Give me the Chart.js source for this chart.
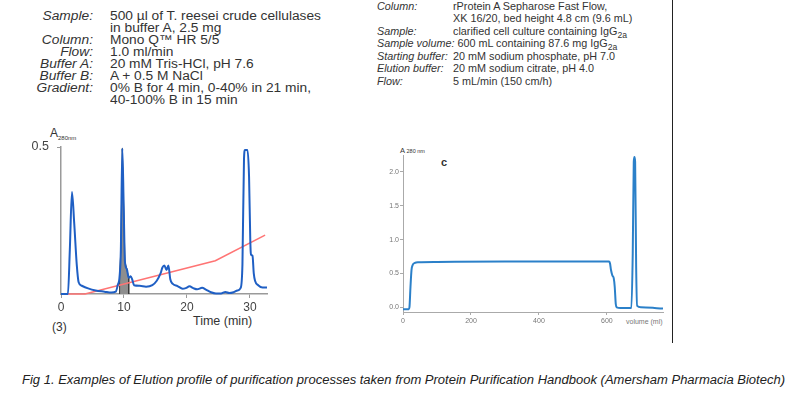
<!DOCTYPE html>
<html>
<head>
<meta charset="utf-8">
<script src="https://cdn.jsdelivr.net/npm/chart.js"></script>
<style>
  body { margin: 0; background: #fff; width: 801px; height: 397px; position: relative; overflow: hidden;
         font-family: "Liberation Sans", Arial, sans-serif; color: #333; }
  .t { position: absolute; white-space: nowrap; line-height: 1; }
  .it { font-style: italic; }
  canvas { position: absolute; }
  sub { font-size: 80%; vertical-align: -3px; line-height: 0; }
</style>
</head>
<body>
<div id="texts"></div>
<div style="position:absolute;left:672px;top:0;width:1px;height:343px;background:#222"></div>
<canvas id="elutionA" width="300" height="220" style="left:0;top:120px"></canvas>
<canvas id="elutionC" width="300" height="200" style="left:380px;top:140px"></canvas>
<script>
// Mono Q cellulases run (left)
const TIME = [0, 1.1, 1.4, 1.74, 2.1, 2.5, 2.8, 3.3, 4.3, 5.5,
  6.9, 8.0, 8.7, 9.0, 9.3, 9.5, 9.73, 9.95, 10.15, 10.45,
  10.75, 11.05, 11.3, 11.6, 12.5, 13.5, 14.5, 15.2, 15.8, 16.1,
  16.4, 16.75, 17.05, 17.35, 17.7, 18.5, 19.3, 19.8, 20.4, 21.0,
  21.6, 22.4, 23.0, 23.8, 24.6, 25.4, 26.1, 26.7, 27.4, 28.0,
  28.5, 28.8, 29.05, 29.2, 29.6, 29.85, 30.05, 30.15, 30.4, 30.6,
  30.8, 31.3, 32.0, 32.7];
const A280 = [0, 0, 0.15, 0.347, 0.24, 0.1, 0.04, 0.028, 0.019, 0.012,
  0.008, 0.005, 0.008, 0.03, 0.06, 0.15, 0.495, 0.3, 0.11, 0.085,
  0.055, 0.06, 0.05, 0.03, 0.028, 0.025, 0.03, 0.045, 0.07, 0.09,
  0.097, 0.082, 0.097, 0.05, 0.035, 0.027, 0.018, 0.02, 0.026, 0.02,
  0.016, 0.021, 0.015, 0.006, 0.002, 0.002, 0.007, 0.003, 0.006, 0.012,
  0.02, 0.1, 0.46, 0.49, 0.49, 0.4, 0.18, 0.135, 0.13, 0.07,
  0.045, 0.03, 0.022, 0.022];
const GRAD_TIME = [0, 3.8, 24.5, 32.4];
const GRAD_A = [0, 0, 0.113, 0.2];
const TIME_TICKS = [0, 10, 20, 30];
const A_TICKS = [0.5];
const SHADE_FROM = 9.3, SHADE_TO = 10.75;   // collected fraction

// rProtein A run (right)
const VOLUME = [0, 17, 19, 22, 25, 28, 35, 45, 100, 300,
  500, 606, 609, 612, 616, 620, 623, 626, 629, 640,
  672, 676, 679, 681, 683, 686, 689, 700, 740, 765];
const A280_C = [-0.03, -0.03, 0.0, 0.3, 0.55, 0.62, 0.655, 0.665, 0.67, 0.675,
  0.675, 0.675, 0.65, 0.55, 0.47, 0.43, 0.3, 0.05, 0.0, -0.01,
  -0.01, 0.8, 2.15, 2.22, 2.15, 0.6, 0.02, 0.0, -0.01, -0.02];
const VOL_TICKS = [0, 200, 400, 600];
const C_TICKS = [0, 0.5, 1.0, 1.5, 2.0];

const LEFT_LABELS = ['Sample:', '', 'Column:', 'Flow:', 'Buffer A:', 'Buffer B:', 'Gradient:', ''];
const LEFT_VALUES = ['500 µl of T. reesei crude cellulases', 'in buffer A, 2.5 mg', 'Mono Q™ HR 5/5',
  '1.0 ml/min', '20 mM Tris-HCl, pH 7.6', 'A + 0.5 M NaCl', '0% B for 4 min, 0-40% in 21 min,',
  '40-100% B in 15 min'];
const RIGHT_LABELS = ['Column:', '', 'Sample:', '', 'Starting buffer:', 'Elution buffer:', 'Flow:'];
const RIGHT_VALUES = ['rProtein A Sepharose Fast Flow,', 'XK 16/20, bed height 4.8 cm (9.6 mL)',
  'clarified cell culture containing IgG<sub>2a</sub>', '', '20 mM sodium phosphate, pH 7.0',
  '20 mM sodium citrate, pH 4.0', '5 mL/min (150 cm/h)'];

const box = document.getElementById('texts');
function put(x, y, html, size, extra) {
  const d = document.createElement('div');
  d.className = 't';
  d.innerHTML = html;
  d.style.left = x + 'px';
  d.style.top = (y - size * 0.5) + 'px';
  d.style.fontSize = size + 'px';
  Object.assign(d.style, extra || {});
  box.appendChild(d);
  return d;
}

LEFT_LABELS.forEach((s, i) => {
  if (!s) return;
  const d = put(0, 16 + 12 * i, s, 12.5, { fontStyle: 'italic', width: '93px', textAlign: 'right',
    transform: 'scaleX(1.1)', transformOrigin: 'right center' });
});
LEFT_VALUES.forEach((s, i) => put(110, 16 + 12 * i, s, 12.5, { transform: 'scaleX(1.1)', transformOrigin: 'left center' }));

RIGHT_LABELS.forEach((s, i) => { if (s) put(377, 6 + 12.5 * i, s, 10.8, { fontStyle: 'italic' }); });
RIGHT_VALUES.forEach((s, i) => { if (s) put(453, 6 + 12.5 * i, s, 10.8); });
put(377, 6 + 12.5 * 3, '<i>Sample volume:</i> 600 mL containing 87.6 mg IgG<sub>2a</sub>', 10.8);

// axis annotations
put(50, 133, 'A<sub style="font-size:6px;vertical-align:-3px">280nm</sub>', 12);
put(52, 327, '(3)', 12);
const tm = put(193, 321, 'Time (min)', 12.5);
put(400, 151, 'A<span style="font-size:5.5px"> 280 nm</span>', 7.5);
put(441, 162, 'c', 11, { fontWeight: 'bold' });
put(626, 321.5, 'volume (ml)', 7, { color: '#777' });

const cap = put(22, 380, 'Fig 1. Examples of Elution profile of purification processes taken from Protein Purification Handbook (Amersham Pharmacia Biotech)',
  12.5, { fontStyle: 'italic', color: '#222', transformOrigin: 'left center' });
cap.style.transform = 'scaleX(' + (763 / cap.getBoundingClientRect().width) + ')';

const pts = (xs, ys) => xs.map((x, i) => ({ x: x, y: ys[i] }));
const curve = pts(TIME, A280);
const shade = [{ x: SHADE_FROM, y: 0 }].concat(curve.filter(p => p.x >= SHADE_FROM && p.x <= SHADE_TO), [{ x: SHADE_TO, y: 0 }]);

const axisGray = '#9a9a9a';

const leftChart = new Chart(document.getElementById('elutionA').getContext('2d'), {
  type: 'line',
  data: {
    datasets: [{
      data: curve,
      borderColor: '#1f5fc4',
      borderWidth: 2,
      pointRadius: 0,
      cubicInterpolationMode: 'monotone',
      clip: 6
    }, {
      data: pts(GRAD_TIME, GRAD_A),
      borderColor: '#ff7474',
      borderWidth: 1.5,
      pointRadius: 0,
      clip: 6
    }, {
      data: shade,
      borderColor: '#3a3a3a',
      borderWidth: 1,
      backgroundColor: '#8e8e8e',
      fill: 'origin',
      pointRadius: 0
    }]
  },
  options: {
    responsive: false,
    animation: false,
    devicePixelRatio: 1,
    layout: { padding: { top: 27, right: 33, left: 0, bottom: 0 } },
    plugins: { legend: { display: false }, tooltip: { enabled: false } },
    scales: {
      x: {
        type: 'linear', min: 0, max: 32.7,
        afterBuildTicks: s => { s.ticks = TIME_TICKS.map(v => ({ value: v })); },
        afterFit: s => { s.height = 46; },
        border: { color: axisGray, width: 1.5 },
        grid: { drawOnChartArea: false, color: axisGray, tickLength: 4 },
        ticks: { color: '#444', font: { size: 12, family: 'Liberation Sans' }, padding: 2, maxRotation: 0 }
      },
      y: {
        min: 0, max: 0.5,
        afterBuildTicks: s => { s.ticks = A_TICKS.map(v => ({ value: v })); },
        afterFit: s => { s.width = 61; },
        border: { color: axisGray, width: 1.5 },
        grid: { drawOnChartArea: false, color: axisGray, tickLength: 4 },
        ticks: { color: '#444', font: { size: 12.5, family: 'Liberation Sans' }, padding: 8 }
      }
    }
  }
});

const rightChart = new Chart(document.getElementById('elutionC').getContext('2d'), {
  type: 'line',
  data: {
    datasets: [{
      data: pts(VOLUME, A280_C),
      borderColor: '#2b80c9',
      borderWidth: 2,
      pointRadius: 0,
      cubicInterpolationMode: 'monotone',
      clip: 6
    }]
  },
  options: {
    responsive: false,
    animation: false,
    devicePixelRatio: 1,
    layout: { padding: { top: 15, right: 17, left: 0, bottom: 0 } },
    plugins: { legend: { display: false }, tooltip: { enabled: false } },
    scales: {
      x: {
        type: 'linear', min: 0, max: 765,
        afterBuildTicks: s => { s.ticks = VOL_TICKS.map(v => ({ value: v })); },
        afterFit: s => { s.height = 28; },
        border: { color: '#aaa', width: 1 },
        grid: { drawOnChartArea: false, color: '#aaa', tickLength: 3 },
        ticks: { color: '#777', font: { size: 7, family: 'Liberation Sans' }, padding: 2, maxRotation: 0 }
      },
      y: {
        min: -0.07, max: 2.25,
        afterBuildTicks: s => { s.ticks = C_TICKS.map(v => ({ value: v })); },
        afterFit: s => { s.width = 23; },
        border: { color: '#aaa', width: 1 },
        grid: { drawOnChartArea: false, color: '#aaa', tickLength: 3 },
        ticks: { color: '#777', font: { size: 7, family: 'Liberation Sans' }, padding: 1,
          callback: v => v.toFixed(1) }
      }
    }
  }
});
</script>
</body>
</html>
